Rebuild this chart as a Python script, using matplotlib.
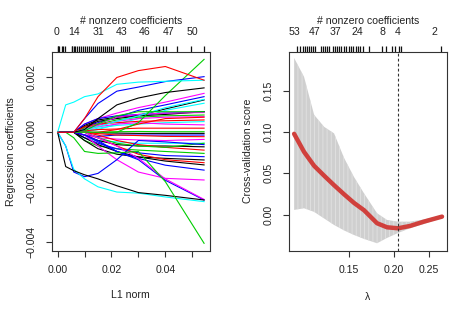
import matplotlib
matplotlib.use('Agg')
import matplotlib.pyplot as plt
import numpy as np
from matplotlib.ticker import FixedLocator, NullFormatter, NullLocator

plt.rcParams['font.family'] = ['Liberation Sans', 'DejaVu Sans']
plt.rcParams['font.size'] = 7.6
plt.rcParams['hatch.linewidth'] = 0.6

# ---- left panel: coefficient paths (values in units of 1e-3) ----
l1_knots = [0, 0.003, 0.006, 0.01, 0.015, 0.022, 0.03, 0.04, 0.0544]

path_colors = [
    'magenta', 'blue', 'black', 'cyan', 'blue', 'black', 'green', 'magenta',
    'red', 'cyan', 'magenta', 'red', 'green', 'black', 'blue', 'red',
    'magenta', 'cyan', 'black', 'red', 'green', 'blue', 'black', 'red',
    'black', 'blue', 'magenta', 'green', 'cyan', 'red', 'green',
    'magenta', 'blue', 'magenta', 'blue', 'cyan', 'black', 'green', 'green',
    'black', 'blue', 'cyan', 'red',
]
path_values = [
    [0, 0, 0, 0.3, 0.5, 0.7, 0.9, 1.1, 1.42],
    [0, 0, 0, 0.2, 0.35, 0.55, 0.8, 1.0, 1.30],
    [0, 0, 0, 0.25, 0.45, 0.55, 0.62, 0.85, 1.18],
    [0, 0, 0, 0, 0.1, 0.3, 0.5, 0.8, 1.06],
    [0, 0, 0, 0.3, 0.5, 0.6, 0.65, 0.7, 0.75],
    [0, 0, 0, 0.2, 0.4, 0.5, 0.6, 0.65, 0.75],
    [0, 0, 0, 0.15, 0.3, 0.45, 0.55, 0.6, 0.63],
    [0, 0, 0, 0.1, 0.25, 0.4, 0.5, 0.55, 0.57],
    [0, 0, 0, 0.2, 0.3, 0.35, 0.4, 0.42, 0.45],
    [0, 0, 0, 0.05, 0.15, 0.25, 0.3, 0.35, 0.39],
    [0, 0, 0, 0.1, 0.2, 0.3, 0.35, 0.3, 0.27],
    [0, 0, 0, 0.05, 0.1, 0.12, 0.15, 0.15, 0.15],
    [0, 0, 0, 0, 0, 0.02, 0.03, 0.02, 0.02],
    [0, 0, 0, 0, -0.02, -0.03, -0.04, -0.04, -0.04],
    [0, 0, 0, -0.1, -0.15, -0.1, -0.1, -0.1, -0.10],
    [0, 0, 0, 0, -0.05, -0.1, -0.12, -0.15, -0.16],
    [0, 0, 0, -0.1, -0.2, -0.25, -0.28, -0.3, -0.26],
    [0, 0, 0, -0.2, -0.3, -0.35, -0.4, -0.4, -0.40],
    [0, 0, 0, -0.1, -0.3, -0.45, -0.5, -0.5, -0.53],
    [0, 0, 0, 0, -0.1, -0.3, -0.45, -0.55, -0.65],
    [0, 0, 0, -0.3, -0.5, -0.6, -0.65, -0.7, -0.77],
    [0, 0, 0, -0.2, -0.4, -0.6, -0.75, -0.85, -0.89],
    [0, 0, 0, -0.3, -0.6, -0.8, -0.9, -0.95, -1.01],
    [0, 0, 0, 0, -0.2, -0.5, -0.8, -1.0, -1.11],
    [0, 0, 0, -0.2, -0.45, -0.7, -0.9, -1.05, -1.19],
    [0, 0, 0, -0.1, -0.3, -0.7, -0.95, -1.2, -1.38],
    [0, 0, 0, 0.1, 0.3, 0.55, 0.65, 0.7, 0.72],
    [0, 0, 0, 0, -0.2, -0.4, -0.5, -0.55, -0.4],
    [0, 0, 0, 0.1, 0.2, 0.4, 0.6, 0.9, 1.2],
    [0, 0, 0, 0, 0, 0.1, 0.3, 0.5, 0.55],
    [0, 0, 0, 0.05, 0.3, 0.6, 0.75, 0.75, 0.75],
    [0, 0, 0, -0.1, -0.5, -1.0, -1.45, -1.68, -1.74],
    [0, 0, 0, -0.1, -0.35, -0.7, -1.0, -1.75, -2.47],
    [0, 0, 0, 0, -0.2, -0.5, -0.95, -1.7, -2.45],
    [0, -0.5, -1.45, -1.62, -1.5, -1.0, -0.3, -0.35, -0.45],
    [0, -0.5, -1.35, -1.7, -1.99, -2.18, -2.22, -2.36, -2.53],
    [0, -1.25, -1.4, -1.55, -1.7, -1.95, -2.2, -2.3, -2.47],
    [0, 0, -0.2, -0.7, -0.77, -0.75, -0.7, -1.8, -4.05],
    [0, 0, 0, 0, 0, 0, 0.35, 1.34, 2.66],
    [0, 0, 0, 0.1, 0.5, 1.0, 1.25, 1.45, 1.62],
    [0, 0, 0, 0.5, 1.05, 1.5, 1.65, 1.85, 2.03],
    [0, 1.0, 1.1, 1.3, 1.4, 1.75, 1.83, 1.86, 1.9],
    [0, 0, 0, 0.5, 1.3, 2.0, 2.25, 2.4, 1.9],
]
r_colors = {'black': '#000000', 'red': '#FF0000', 'green': '#00CD00',
            'blue': '#0000FF', 'cyan': '#00FFFF', 'magenta': '#FF00FF'}

l1_rug = [0.0, 0.0003, 0.0006, 0.0015, 0.0021, 0.0027, 0.0052, 0.0055, 0.0060,
          0.0065, 0.0073, 0.0080, 0.0088, 0.0095, 0.0103, 0.0110, 0.0117, 0.0125,
          0.0132, 0.0140, 0.0147, 0.0155, 0.0162, 0.0170, 0.0177, 0.0184, 0.0192,
          0.0199, 0.0207, 0.0234, 0.0241, 0.0249, 0.0256, 0.0264, 0.0316, 0.0330,
          0.0365, 0.0377, 0.0390, 0.0402, 0.0444, 0.0497, 0.0543]
l1_df_pos = [-0.0004, 0.0062, 0.0150, 0.0237, 0.0323, 0.0412, 0.0500]
l1_df_labels = ['0', '14', '31', '43', '46', '47', '50']

# ---- right panel: cross-validation ----
lam = [0.1056, 0.1125, 0.1200, 0.1279, 0.1363, 0.1453, 0.1548, 0.1651,
       0.1794, 0.1912, 0.2051, 0.2214, 0.2422, 0.2717]
cv_mean = [0.0977, 0.0759, 0.0590, 0.0471, 0.0356, 0.0246, 0.0142, 0.0053,
           -0.0104, -0.0153, -0.0165, -0.0137, -0.0084, -0.0024]
cv_upper = [0.1894, 0.1667, 0.1207, 0.1062, 0.0983, 0.0686, 0.0456, 0.0257,
            0.0017, -0.0064, -0.0085, -0.0085, -0.0058, -0.0010]
cv_lower = [0.0057, 0.0077, 0.0033, -0.0046, -0.0125, -0.0191, -0.0246, -0.0294,
            -0.0346, -0.0282, -0.0222, -0.0165, -0.0113, -0.0040]
lam_best = 0.2056

lam_rug = [0.1056, 0.1078, 0.1097, 0.1116, 0.1131, 0.1145, 0.1160, 0.1175, 0.1190,
           0.1210, 0.1252, 0.1268, 0.1284, 0.1301, 0.1318, 0.1357, 0.1374, 0.1392,
           0.1410, 0.1428, 0.1453, 0.1474, 0.1497, 0.1519, 0.1542, 0.1569, 0.1589,
           0.1609, 0.1637, 0.1708, 0.1848, 0.1900, 0.1970, 0.2016, 0.2060, 0.2091,
           0.2581, 0.2694]
lam_df_pos = [0.1056, 0.1200, 0.1378, 0.1582, 0.1855, 0.2042, 0.2581]
lam_df_labels = ['53', '47', '37', '24', '8', '4', '2']

W, H = 474, 315
fig = plt.figure(figsize=(W / 100, H / 100), dpi=100)
ax_h = 199 / H
ax_w = 158.3 / W
ax1 = fig.add_axes([51.7 / W, 1 - 250.7 / H, ax_w, ax_h])
ax2 = fig.add_axes([288.7 / W, 1 - 250.7 / H, ax_w, ax_h])

ink = '#222222'
frame = '#333333'


def style_box(ax):
    for s in ax.spines.values():
        s.set_color(frame)
        s.set_linewidth(0.8)
    ax.tick_params(direction='out', length=4.3, width=0.8, pad=6,
                   colors=frame, labelcolor=ink)
    ax.tick_params(axis='y', labelrotation=90, pad=6.5)
    for lab in ax.get_yticklabels():
        lab.set_va('center')


def top_axis(ax, rug, pos, labels):
    sec = ax.secondary_xaxis('top')
    sec.set_xticks(pos)
    sec.set_xticklabels(labels)
    sec.xaxis.set_minor_locator(FixedLocator(rug))
    sec.xaxis.set_minor_formatter(NullFormatter())
    sec.tick_params(which='major', length=0, pad=10.4, labelcolor=ink)
    sec.tick_params(which='minor', length=4.3, width=0.9, color='#111111',
                    direction='out')
    sec.spines['top'].set_visible(False)
    ax.text(0.5, 1 + 31 / 199, '# nonzero coefficients', transform=ax.transAxes,
            ha='center', va='center', color=ink)


# left panel
for c, v in zip(path_colors, path_values):
    ax1.plot(l1_knots, np.array(v) * 1e-3, color=r_colors[c], lw=0.8)
ax1.set_xlim(-0.0022, 0.0566)
ax1.set_ylim(-0.00432, 0.00294)
ax1.set_xticks([0, 0.01, 0.02, 0.03, 0.04, 0.05])
ax1.set_xticklabels(['0.00', '', '0.02', '', '0.04', ''])
ax1.set_yticks([-0.004, -0.003, -0.002, -0.001, 0, 0.001, 0.002])
ax1.set_yticklabels(['\u22120.004', '', '\u22120.002', '', '0.000', '', '0.002'])
style_box(ax1)
top_axis(ax1, l1_rug, l1_df_pos, l1_df_labels)
ax1.text(0.5, -44.3 / 199, 'L1 norm', transform=ax1.transAxes,
         ha='center', va='center', color=ink)
ax1.text(-40.7 / 158.3, 0.5, 'Regression coefficients', transform=ax1.transAxes,
         rotation=90, ha='center', va='center', color=ink)

# right panel
ax2.set_xscale('log')
ax2.fill_between(lam, cv_lower, cv_upper, facecolor='#cfcfcf',
                 edgecolor='#e2e2e2', hatch='||||', lw=0)
ax2.plot(lam, cv_mean, color='#d0403c', lw=3.2, solid_capstyle='round',
         solid_joinstyle='round')
ax2.axvline(lam_best, color=frame, lw=0.8, ls=(0, (2.5, 2)))
ax2.set_xlim(0.102, 0.2805)
ax2.set_ylim(-0.0436, 0.197)
ax2.xaxis.set_minor_locator(NullLocator())
ax2.set_xticks([0.15, 0.20, 0.25])
ax2.set_xticklabels(['0.15', '0.20', '0.25'])
ax2.set_yticks([0.0, 0.05, 0.10, 0.15])
ax2.set_yticklabels(['0.00', '0.05', '0.10', '0.15'])
style_box(ax2)
top_axis(ax2, lam_rug, lam_df_pos, lam_df_labels)
ax2.text(0.5, -46 / 199, '\u03bb', transform=ax2.transAxes,
         ha='center', va='center', color=ink)
ax2.text(-40.7 / 158.3, 0.5, 'Cross-validation score', transform=ax2.transAxes,
         rotation=90, ha='center', va='center', color=ink)

fig.savefig('out.png', dpi=100)
